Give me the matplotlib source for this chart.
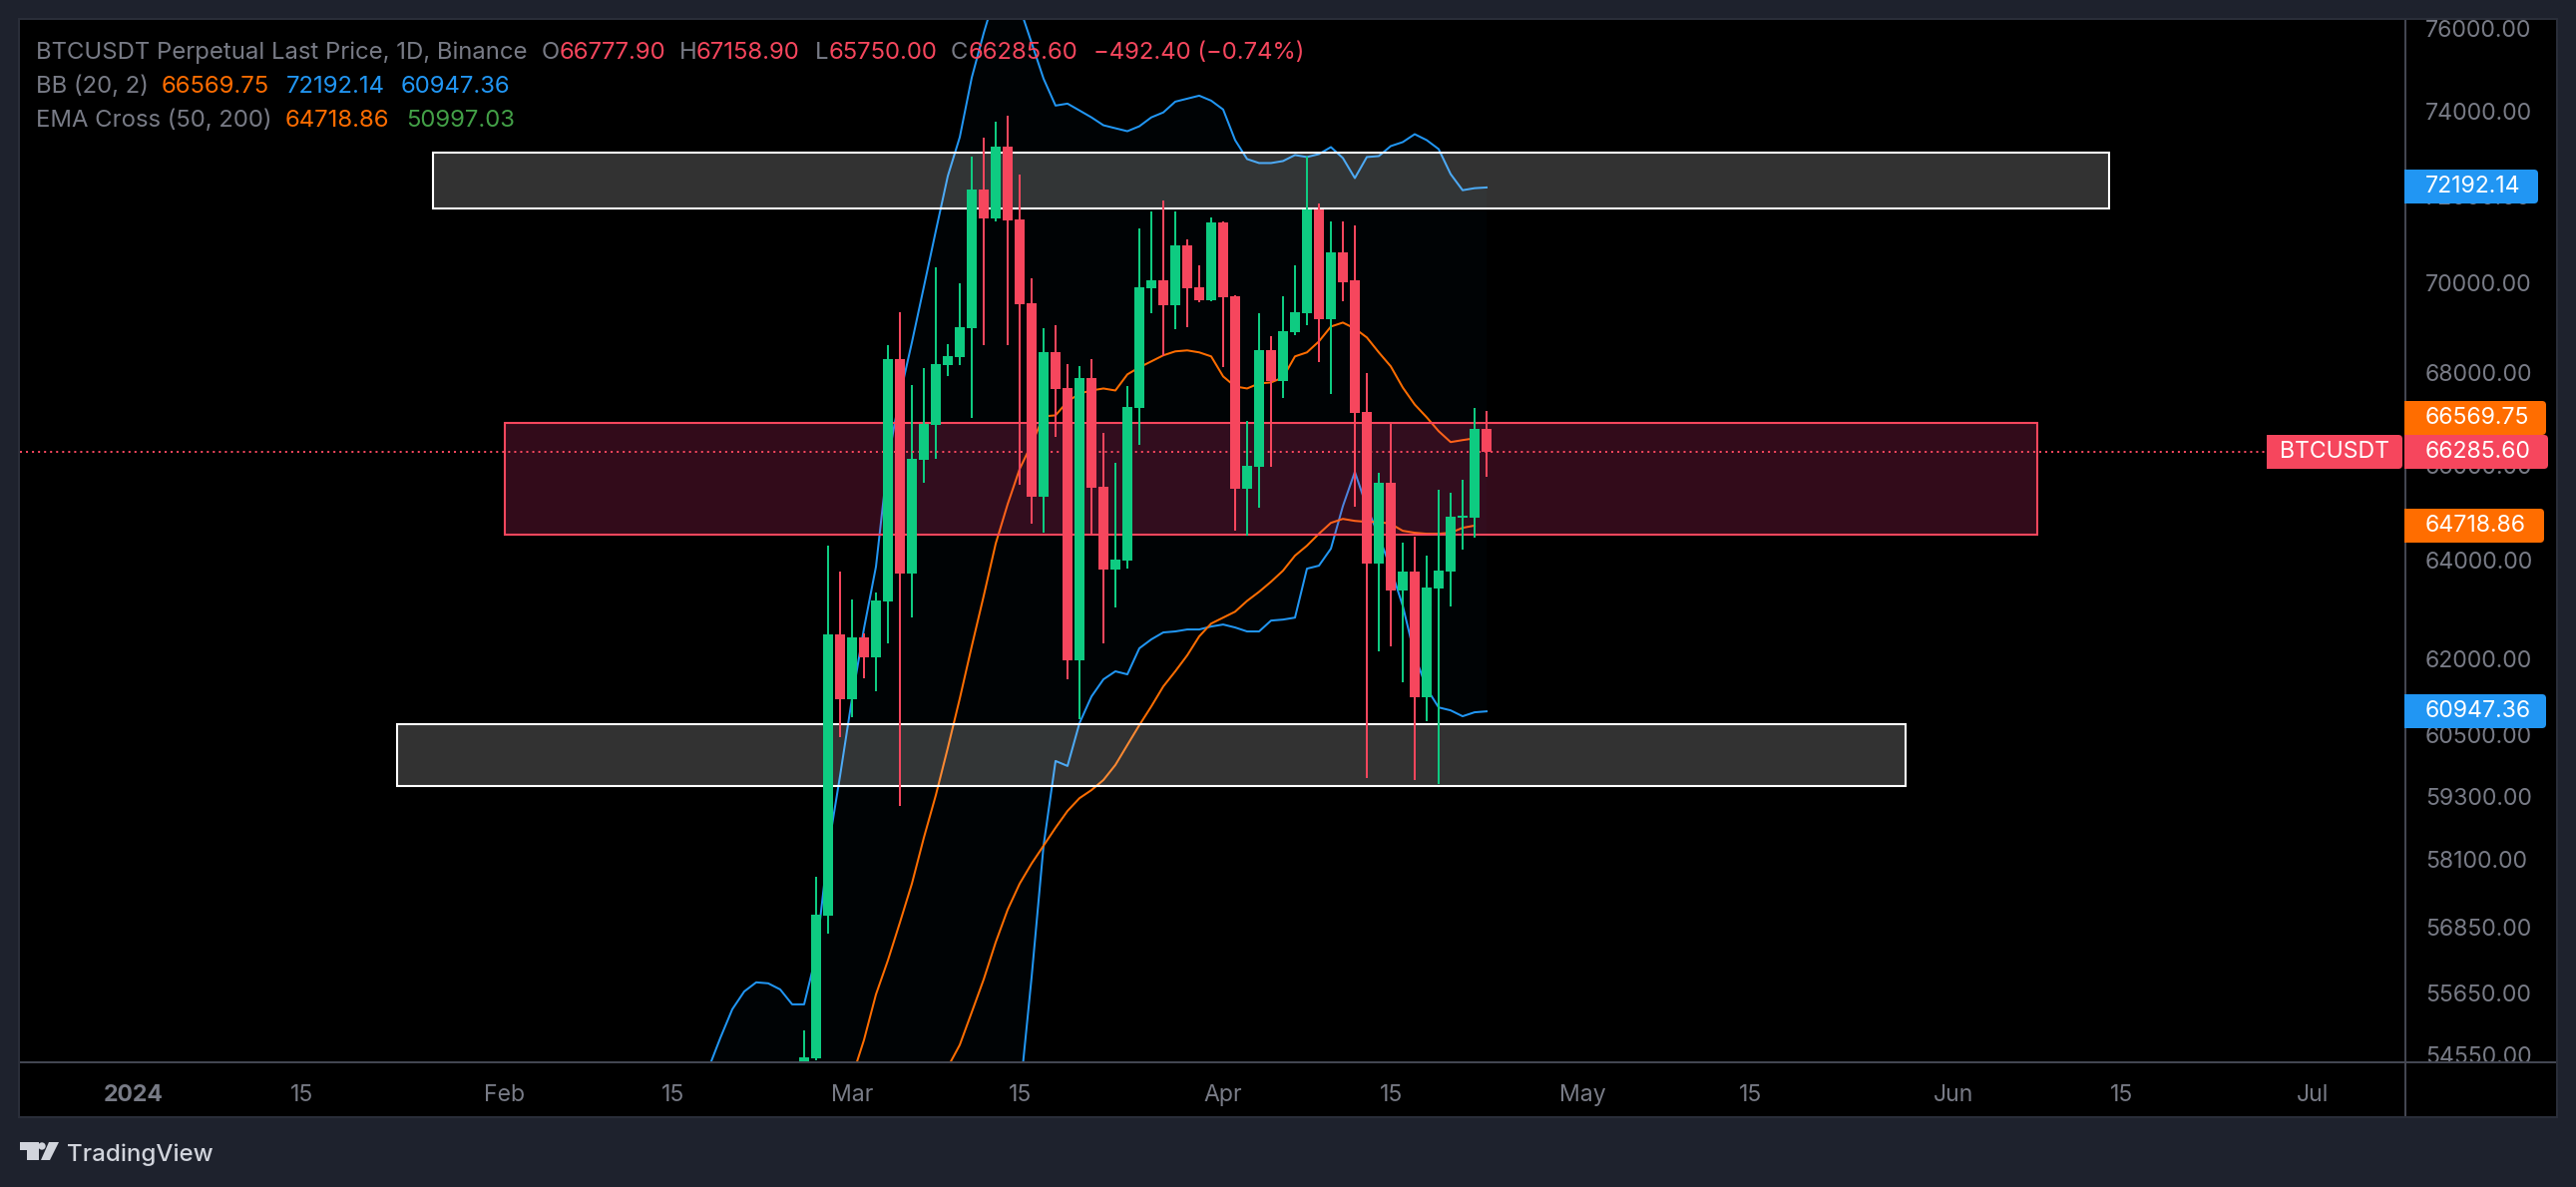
import numpy as np
import pandas as pd
import matplotlib
matplotlib.use('Agg')
import matplotlib.pyplot as plt
import matplotlib.dates as mdates
from matplotlib.patches import Rectangle, FancyBboxPatch, Polygon, Circle
from matplotlib.ticker import NullLocator
from matplotlib.transforms import IdentityTransform, Bbox

plt.rcParams['font.family'] = ['Inter', 'DejaVu Sans']

# daily candles, 2024-02-26 to 2024-04-23
opens = [51700, 54490, 57055, 62482, 61181, 62422, 62021, 63143, 68290, 63720,
         66105, 66853, 68158, 68334, 68974, 72152, 71483, 73140, 71460, 69548,
         65315, 68445, 67651, 61961, 67872, 65528, 63803, 63989, 67237, 69888,
         70047, 69504, 70845, 69910, 69614, 71369, 69705, 65486, 65955, 68489,
         67805, 68886, 69327, 71688, 69173, 70685, 70047, 67130, 63927, 65614,
         63369, 63762, 61220, 63410, 63762, 64890, 64880, 66777.9]
highs = [54983, 57777, 64300, 63762, 63183, 62502, 63327, 68599, 69349, 67717,
         68092, 70343, 68621, 69997, 72905, 73375, 73752, 73893, 72505, 70093,
         68974, 69040, 68180, 68136, 68290, 66682, 66041, 67695, 71232, 71642,
         71893, 71642, 70981, 70389, 71505, 71392, 69728, 66938, 69327, 68798,
         69705, 70389, 72905, 71825, 71414, 71392, 71300, 67982, 65827, 66874,
         64362, 64486, 64093, 65464, 65400, 65678, 67216, 67158.9]
lows = [50900, 54440, 56728, 60444, 60832, 61601, 61340, 62302, 59111, 62822,
        65614, 66126, 67915, 68158, 67002, 68599, 71392, 68599, 65571, 64755,
        64569, 66596, 61581, 60793, 64548, 62302, 63023, 63824, 66425, 69327,
        68356, 68952, 68996, 69570, 69592, 68114, 64610, 64507, 65086, 65955,
        67452, 68820, 69040, 68224, 67540, 69592, 65107, 59649, 62141, 62242,
        61521, 59610, 60754, 59532, 63043, 64217, 64466, 65750]
closes = [54508, 57073, 62482, 61181, 62422, 62021, 63163, 68290, 63720, 66126,
          66874, 68180, 68356, 68996, 72152, 71483, 73140, 71437, 69526, 65315,
          68445, 67629, 61961, 67872, 65507, 63803, 64010, 67258, 69910, 70047,
          69504, 70845, 69888, 69614, 71369, 69682, 65486, 65977, 68489, 67805,
          68908, 69349, 71688, 69173, 70685, 70024, 67109, 63927, 65614, 63369,
          63762, 61220, 63431, 63783, 64900, 64920, 66778, 66285.6]

# bollinger bands from 2024-02-18
bb_upper = [54297, 54842, 55353, 55673, 55837, 55819, 55709, 55441, 55441, 56328,
            58284, 59688, 61200, 62602, 63865, 66105, 67496, 68665, 69910, 71186,
            72458, 73375, 74800, 75885, 76874, 76973, 76526, 75646, 74774, 74128,
            74175, 74011, 73846, 73658, 73587, 73517, 73634, 73846, 73964, 74222,
            74294, 74366, 74246, 74034, 73305, 72858, 72764, 72764, 72811, 72952,
            72905, 72975, 73140, 72882, 72411, 72905, 72928, 73164, 73258, 73446,
            73305, 73093, 72505, 72128, 72175, 72192.14]
bb_lower = [40900, 41000, 41100, 41200, 41300, 41300, 41400, 41500, 41300, 41000,
            40800, 40900, 41000, 41100, 41200, 41300, 41400, 41500, 41700, 42100,
            43000, 44500, 46500, 48500, 50500, 52200, 53800, 55928, 58359, 59978,
            59881, 60715, 61240, 61581, 61741, 61681, 62202, 62382, 62522, 62542,
            62582, 62582, 62642, 62682, 62622, 62542, 62542, 62762, 62782, 62822,
            63824, 63886, 64238, 65127, 65852, 65107, 64507, 63824, 63063, 62061,
            61400, 61025, 60967, 60851, 60929, 60947.36]
# basis from 2024-03-01
bb_basis = [54150, 54807, 55619, 56237, 56927, 57645, 58509, 59319, 60231, 61200,
            62242, 63265, 64341, 65169, 65913, 66447, 67045, 67066, 67365, 67540,
            67607, 67651, 67607, 67960, 68114, 68246, 68379, 68467, 68489, 68445,
            68356, 67915, 67695, 67651, 67761, 67783, 67893, 68356, 68445, 68688,
            69018, 69107, 68974, 68776, 68445, 68136, 67673, 67301, 67024, 66724,
            66489, 66532, 66569.75]
# ema 50 from 2024-03-08
ema_50 = [53800, 54328, 54719, 55300, 55891, 56564, 57164, 57645, 58022, 58359,
          58697, 59017, 59261, 59416, 59610, 59901, 60289, 60676, 61045, 61440,
          61741, 62061, 62442, 62702, 62822, 62943, 63163, 63348, 63555, 63783,
          64093, 64300, 64548, 64776, 64859, 64817, 64797, 64797, 64755, 64610,
          64569, 64548, 64548, 64569, 64672, 64718.86]

price_ticks = [76000, 74000, 72000, 70000, 68000, 66000, 64000, 62000, 60500,
               59300, 58100, 56850, 55650, 54550]
date_ticks = ['2024-01-01', '2024-01-15', '2024-02-01', '2024-02-15', '2024-03-01',
              '2024-03-15', '2024-04-01', '2024-04-15', '2024-05-01', '2024-05-15',
              '2024-06-01', '2024-06-15', '2024-07-01']
date_labels = ['2024', '15', 'Feb', '15', 'Mar', '15', 'Apr', '15', 'May', '15',
               'Jun', '15', 'Jul']

# drawn zones: start, end, top price, bottom price
zone_upper = ('2024-01-26', '2024-06-14', 72999, 71711)
zone_middle = ('2024-02-01', '2024-06-08', 66895, 64527)
zone_lower = ('2024-01-23', '2024-05-28', 60696, 59494)

W, H = 2582, 1190
BG = '#1e222d'
BORDER = '#2a2e39'
SEP = '#434651'
GREY = '#787b86'
GREEN = '#0ecb81'
RED = '#f6465d'
BLUE = '#2196f3'
ORANGE = '#ff6d00'

PANE_L, PANE_R, PANE_T, PANE_B = 20, 2411, 20, 1065
AXIS_B, SCALE_R = 1119, 2562
FS = 16.6
LEGEND_FS = 17.2


def num(day):
    return mdates.date2num(pd.Timestamp(day))


def days(start, n):
    return mdates.date2num(pd.date_range(start, periods=n, freq='D'))


def px_rect(fig, x0, y0, x1, y1, color, zorder=-1):
    # rectangle in image pixels, y counted from the top
    r = Rectangle((x0, H - y1), x1 - x0, y1 - y0, facecolor=color, edgecolor='none',
                  transform=IdentityTransform(), zorder=zorder)
    fig.add_artist(r)


def px_text(fig, x, y, s, color, size=FS, **kw):
    fig.text(x, H - y, s, color=color, fontsize=size, va='center', ha='left',
             transform=IdentityTransform(), zorder=8, **kw)


def tag(fig, x0, y0, x1, y1, s, color):
    box = FancyBboxPatch((x0, H - y1), x1 - x0, y1 - y0, boxstyle='round,pad=0,rounding_size=4',
                         facecolor=color, edgecolor='none', transform=IdentityTransform(), zorder=6)
    fig.add_artist(box)
    px_rect(fig, x0, y0, x0 + 10, y1, color, zorder=6)
    px_text(fig, x0 + 21 if x0 > 2400 else x0 + 13, (y0 + y1) / 2, s, 'white')


def draw_zone(ax, zone, edge, face):
    x0, x1 = num(zone[0]), num(zone[1])
    ax.add_patch(Rectangle((x0, zone[3]), x1 - x0, zone[2] - zone[3], facecolor=face,
                           edgecolor=edge, linewidth=1.5, zorder=3))


def draw_logo(fig):
    logo = '#d1d4dc'
    for pts in [[(20, 1145), (39, 1145), (39, 1163), (27, 1163), (27, 1153), (20, 1153)],
                [(49, 1145), (59, 1145), (50, 1163), (41, 1163)]]:
        fig.add_artist(Polygon([(x, H - y) for x, y in pts], closed=True, facecolor=logo,
                               edgecolor='none', transform=IdentityTransform(), zorder=8))
    fig.add_artist(Circle((42, H - 1149), 3.7, facecolor=logo, edgecolor='none',
                          transform=IdentityTransform(), zorder=8))


fig = plt.figure(figsize=(W / 100, H / 100), dpi=100, facecolor=BG)
px_rect(fig, PANE_L - 2, PANE_T - 2, SCALE_R + 2, AXIS_B + 2, BORDER, zorder=-2)
px_rect(fig, PANE_L, PANE_T, SCALE_R, AXIS_B, 'black', zorder=-1)

ax = fig.add_axes([PANE_L / W, 1 - PANE_B / H, (PANE_R - PANE_L) / W, (PANE_B - PANE_T) / H])
ax.set_facecolor('black')
ax.set_yscale('log')
ax.yaxis.set_minor_locator(NullLocator())
ax.yaxis.tick_right()

first_day = num('2024-01-01')
ax.set_xlim(first_day - 9.5, first_day + 189.75)
ax.set_ylim(54412, 76208)

# indicators
x_bb = days('2024-02-18', len(bb_upper))
ax.fill_between(x_bb, bb_lower, bb_upper, color=BLUE, alpha=0.025, linewidth=0, zorder=1)
ax.plot(x_bb, bb_upper, color=BLUE, lw=1.45, zorder=2)
ax.plot(x_bb, bb_lower, color=BLUE, lw=1.45, zorder=2)
ax.plot(days('2024-03-01', len(bb_basis)), bb_basis, color=ORANGE, lw=1.45, zorder=2)
ax.plot(days('2024-03-08', len(ema_50)), ema_50, color=ORANGE, lw=1.45, zorder=2)

# zones sit over the lines but under the candles
draw_zone(ax, zone_upper, 'white', (1, 1, 1, 0.2))
draw_zone(ax, zone_lower, 'white', (1, 1, 1, 0.2))
draw_zone(ax, zone_middle, RED, (1, 0.22, 0.52, 0.2))

# candles
x_c = days('2024-02-26', len(opens))
colors = [GREEN if c >= o else RED for o, c in zip(opens, closes)]
ax.vlines(x_c, lows, highs, colors=colors, linewidth=1.45, zorder=4)
tops = np.maximum(opens, closes)
bottoms = np.minimum(opens, closes)
ax.bar(x_c, tops - bottoms, bottom=bottoms, width=10 / 12, color=colors, linewidth=0, zorder=5)

# last price line
last_close = closes[-1]
ax.plot([first_day - 9.5, first_day + (2272 - 134) / 12], [last_close, last_close], color=RED, lw=1.45,
        linestyle=(0, (1, 2)), zorder=4)

for side in ['top', 'left', 'right', 'bottom']:
    ax.spines[side].set_visible(False)

ax.set_yticks(price_ticks, [f'{p:.2f}' for p in price_ticks])
ax.set_xticks([num(d) for d in date_ticks], date_labels)
ax.tick_params(axis='y', length=0, pad=14.4, labelcolor=GREY, labelsize=FS)
ax.tick_params(axis='x', length=0, pad=15.5, labelcolor=GREY, labelsize=FS)
ax.get_xticklabels()[0].set_fontweight('bold')
scale_clip = Bbox.from_extents(PANE_R, H - PANE_B, SCALE_R, H - PANE_T)
for label in ax.get_yticklabels():
    label.set_clip_box(scale_clip)
    label.set_clip_on(True)

# separators of the scales
px_rect(fig, PANE_L, PANE_B - 1, SCALE_R, PANE_B + 1, SEP, zorder=4)
px_rect(fig, PANE_R - 1, PANE_T, PANE_R + 1, AXIS_B, SEP, zorder=4)

# price tags
tag(fig, 2410, 170, 2544, 204, f'{bb_upper[-1]:.2f}', BLUE)
tag(fig, 2410, 402, 2552, 436, f'{bb_basis[-1]:.2f}', ORANGE)
tag(fig, 2410, 436, 2554, 470, f'{last_close:.2f}', RED)
tag(fig, 2410, 510, 2550, 544, f'{ema_50[-1]:.2f}', ORANGE)
tag(fig, 2410, 696, 2552, 730, f'{bb_lower[-1]:.2f}', BLUE)
tag(fig, 2272, 436, 2408, 470, 'BTCUSDT', RED)

# legend rows
change = last_close - closes[-2]
change_pct = abs(change) / closes[-2] * 100
px_text(fig, 36, 53, 'BTCUSDT Perpetual Last Price, 1D, Binance', GREY, size=LEGEND_FS)
px_text(fig, 543, 53, 'O', GREY, size=LEGEND_FS)
px_text(fig, 561, 53, f'{opens[-1]:.2f}', RED, size=LEGEND_FS)
px_text(fig, 681, 53, 'H', GREY, size=LEGEND_FS)
px_text(fig, 698, 53, f'{highs[-1]:.2f}', RED, size=LEGEND_FS)
px_text(fig, 817, 53, 'L', GREY, size=LEGEND_FS)
px_text(fig, 831, 53, f'{lows[-1]:.2f}', RED, size=LEGEND_FS)
px_text(fig, 953, 53, 'C', GREY, size=LEGEND_FS)
px_text(fig, 971, 53, f'{last_close:.2f}', RED, size=LEGEND_FS)
px_text(fig, 1096, 53, f'\u2212{abs(change):.2f} (\u2212{change_pct:.2f}%)', RED, size=LEGEND_FS)
px_text(fig, 36, 87, 'BB (20, 2)', GREY, size=LEGEND_FS)
px_text(fig, 162, 87, f'{bb_basis[-1]:.2f}', ORANGE, size=LEGEND_FS)
px_text(fig, 287, 87, f'{bb_upper[-1]:.2f}', BLUE, size=LEGEND_FS)
px_text(fig, 402, 87, f'{bb_lower[-1]:.2f}', BLUE, size=LEGEND_FS)
px_text(fig, 36, 121, 'EMA Cross (50, 200)', GREY, size=LEGEND_FS)
px_text(fig, 286, 121, f'{ema_50[-1]:.2f}', ORANGE, size=LEGEND_FS)
px_text(fig, 407, 121, '50997.03', '#43a047', size=LEGEND_FS)

# watermark
draw_logo(fig)
px_text(fig, 67, 1158, 'TradingView', '#d1d4dc', size=17.4, fontweight='medium')

fig.savefig('out.png', dpi=100, facecolor=BG)
